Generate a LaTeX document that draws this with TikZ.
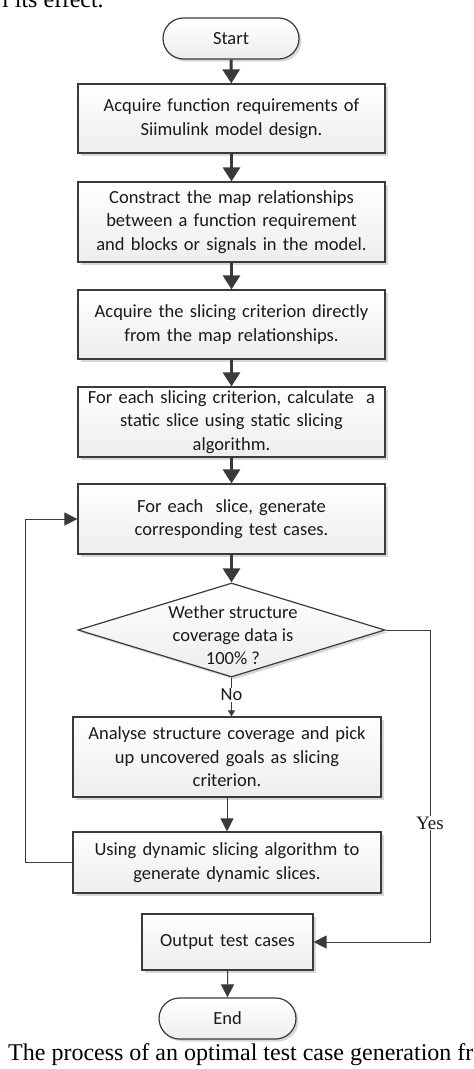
\documentclass[tikz,border=0pt]{standalone}
\usepackage{fontspec}
\setmainfont{Carlito}
\newfontfamily\capserif{Liberation Serif}
\usetikzlibrary{arrows.meta,shapes.geometric,shapes.misc,shadows}
\definecolor{edge}{HTML}{3A3A3A}
\definecolor{txt}{HTML}{1A1A1A}
\tikzset{
  boxshade/.style={top color=white,bottom color=black!7,
    drop shadow={shadow xshift=2.5pt,shadow yshift=-2.5pt,fill=black!30,opacity=0.5}},
  procbox/.style={draw=edge,line width=1.2pt,boxshade,rectangle,
    minimum width=307pt,inner sep=0pt,text width=303pt,align=center,
    font=\fontsize{18.5}{23.5}\selectfont,text=txt},
  termbox/.style={draw=edge,line width=1.2pt,boxshade,rounded rectangle,
    minimum width=136pt,minimum height=41pt,inner sep=0pt,
    font=\fontsize{18.5}{22}\selectfont,text=txt},
  decbox/.style={draw=edge,line width=1.2pt,diamond,boxshade,
    minimum width=307pt,minimum height=94pt,inner sep=0pt},
  thickarrow/.style={draw=edge,line width=3pt,
    -{Triangle[width=17pt,length=14pt]}},
  thinarrow/.style={draw=edge,line width=1pt,
    -{Triangle[width=13pt,length=13pt]}},
  smallarrow/.style={draw=edge,line width=1pt,
    -{Triangle[width=7pt,length=6pt]}},
  lbl/.style={fill=white,inner sep=1pt,text=txt},
}
\begin{document}
\begin{tikzpicture}[x=1pt,y=-1pt]
\useasboundingbox (0,0) rectangle (474,1069);
% cropped caption fragments
\node[anchor=base west,inner sep=0pt,font=\capserif\fontsize{24}{26}\selectfont] (toptext) at (2,7) {l its effect.};
\node[anchor=base west,inner sep=0pt,font=\capserif\fontsize{24}{26}\selectfont] (captext) at (8,1060) {The process of an optimal test case generation fr};

\node[termbox] (start) at (231,38.5) {Start};
\node[procbox,minimum height=69pt] (b1) at (231.5,118.5) {Acquire function requirements of\\Siimulink model design.};
\node[procbox,minimum height=80pt] (b2) at (231.5,222) {Constract the map relationships\\between a function requirement\\and blocks or signals in the model.};
\node[procbox,minimum height=69pt] (b3) at (231.5,324.5) {Acquire the slicing criterion directly\\from the map relationships.};
\node[procbox,minimum height=70pt] (b4) at (231.5,422) {For each slicing criterion, calculate\ \ a\\static slice using static slicing\\algorithm.};
\node[procbox,minimum height=70pt] (b5) at (231.5,519) {For each\ \ slice, generate\\corresponding test cases.};
\node[decbox] (dec) at (231.5,630) {};
\node[align=center,inner sep=0pt,font=\fontsize{18.5}{23}\selectfont,text=txt] (dectext) at (233,635) {Wether structure\\coverage data is\\100\% ?};
\node[procbox,minimum width=308pt,minimum height=80pt] (b6) at (227,757) {Analyse structure coverage and pick\\up uncovered goals as slicing\\criterion.};
\node[procbox,minimum width=308pt,minimum height=61pt] (b7) at (227,862.5) {Using dynamic slicing algorithm to\\generate dynamic slices.};
\node[procbox,minimum width=171pt,text width=165pt,minimum height=56pt] (b8) at (227.5,942) {Output test cases};
\node[termbox,minimum width=137pt] (end) at (227.5,1018.5) {End};

\draw[thickarrow] (start) -- (b1);
\draw[thickarrow] (b1) -- (b2);
\draw[thickarrow] (b2) -- (b3);
\draw[thickarrow] (b3) -- (b4);
\draw[thickarrow] (b4) -- (b5);
\draw[thickarrow] (b5) -- (dec);
\draw[smallarrow] (dec.south) -- (dec.south |- b6.north) node[lbl,pos=0.45,font=\fontsize{18.5}{20}\selectfont] (no) {No};
\draw[thinarrow] (b6.south -| b7.north) -- (b7.north);
\draw[thinarrow] (b7.west) -- ++(-47,0) |- (b5.west);
\draw[thinarrow] (dec.east) -- ++(45,0) coordinate (ycorner) |- (b8.east);
\node[lbl,font=\capserif\fontsize{19}{21}\selectfont] (yes) at (430,823) {Yes};
\draw[thinarrow] (b8) -- (end);
\end{tikzpicture}
\end{document}
